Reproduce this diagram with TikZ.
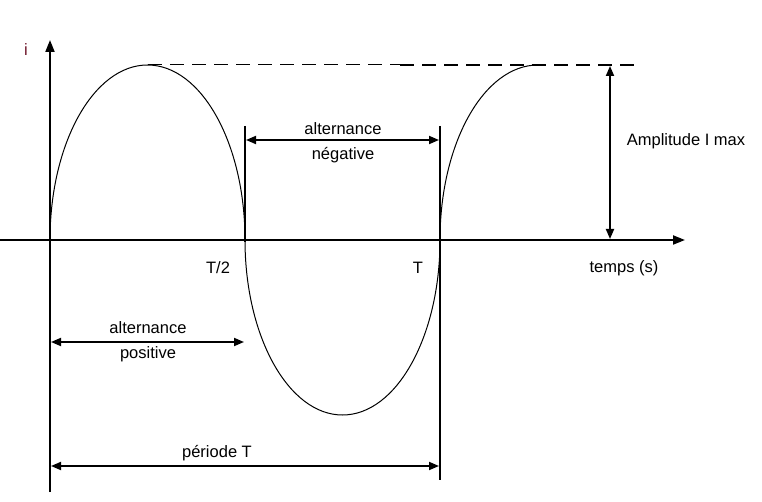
\documentclass[tikz,border=0pt]{standalone}
\usepackage{fontspec}
\setmainfont{Liberation Sans}
\usetikzlibrary{arrows.meta}
\definecolor{ired}{RGB}{110,20,40}
\begin{document}
\begin{tikzpicture}[x=1pt,y=-1pt,
  ax/.style={line width=2pt,-{Triangle[length=12pt,width=9pt]}},
  dim/.style={line width=1.8pt,{Triangle[length=10pt,width=8pt]}-{Triangle[length=10pt,width=8pt]}},
  bar/.style={line width=2.2pt},
  lbl/.style={font=\fontsize{16.5}{19}\selectfont,inner sep=0pt}]
\useasboundingbox (0,0) rectangle (762,502);
\coordinate (o) at (50,240);
\coordinate (xe) at (685,240);
\coordinate (xs) at (0,240);
\coordinate (yb) at (50,492);
\coordinate (ye) at (50,40);
\draw[ax] (xs) -- (xe);
\draw[ax] (yb) -- (ye);
\node[lbl,text=ired] (i) at (26,50) {i};
% curve
\draw[line width=1pt] (o) arc[start angle=180,end angle=0,x radius=97.5,y radius=-175]
  arc[start angle=180,end angle=360,x radius=97.5,y radius=-175]
  arc[start angle=180,end angle=90,x radius=98,y radius=-175];
\coordinate (p1) at (148,65);
\coordinate (pm) at (400,65);
\coordinate (p2) at (635,65);
\draw[line width=1pt,dash pattern=on 14pt off 8pt] (p1) -- (pm);
\draw[line width=2.2pt,dash pattern=on 14pt off 8pt] (pm) -- (p2);
% bars
\coordinate (b1t) at (245,126); \coordinate (b1b) at (245,242);
\coordinate (b2t) at (440,126); \coordinate (b2b) at (440,480);
\draw[bar] (b1t) -- (b1b);
\draw[bar] (b2t) -- (b2b);
% dims
\coordinate (n1) at (246,140); \coordinate (n2) at (439,140);
\draw[dim] (n1) -- (n2);
\node[lbl] (neg1) at (343,129) {alternance};
\node[lbl] (neg2) at (343,155) {négative};
\coordinate (q1) at (51,342); \coordinate (q2) at (244,342);
\draw[dim] (q1) -- (q2);
\node[lbl] (pos1) at (148,328) {alternance};
\node[lbl] (pos2) at (148,354) {positive};
\coordinate (r1) at (51,466); \coordinate (r2) at (439,466);
\draw[dim] (r1) -- (r2);
\node[lbl] (per) at (217,453) {période T};
\coordinate (a1) at (610,66); \coordinate (a2) at (610,239);
\draw[dim] (a1) -- (a2);
\node[lbl] (amp) at (686,141) {Amplitude I max};
\node[lbl] (t2) at (218,268) {T/2};
\node[lbl] (t) at (418,268) {T};
\node[lbl] (temps) at (624,268) {temps (s)};
\end{tikzpicture}
\end{document}
